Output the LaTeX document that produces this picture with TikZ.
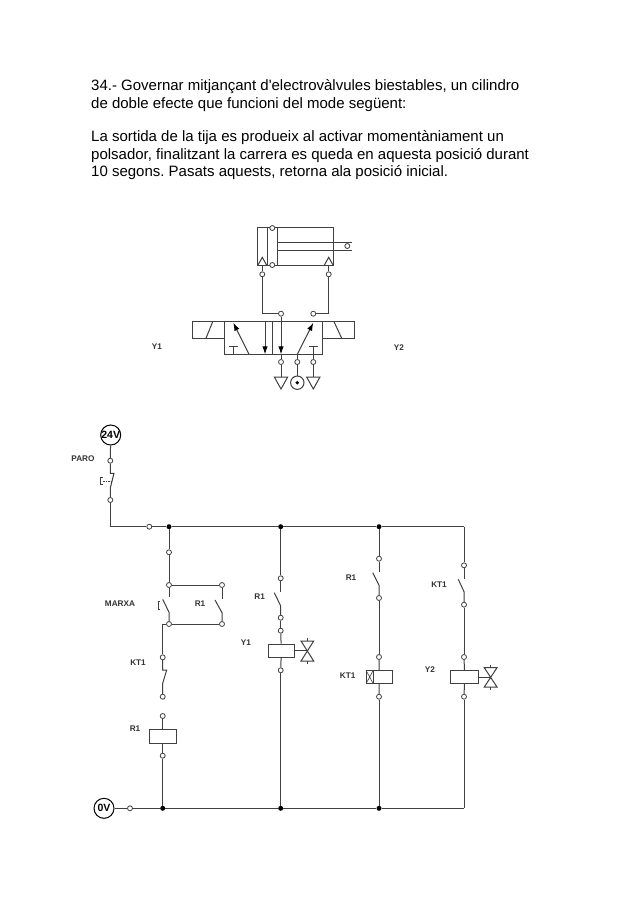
\documentclass[tikz,border=0pt]{standalone}
\usepackage{fontspec}
\setmainfont{Liberation Sans}[Ligatures=TeXOff]
\usetikzlibrary{arrows.meta}
\definecolor{wirecol}{gray}{0.25}
\tikzset{
  wire/.style={draw=wirecol,line width=1pt},
  term/.style={circle,draw=wirecol,fill=white,line width=0.8pt,minimum size=5pt,inner sep=0pt},
  junction/.style={circle,fill=black,minimum size=5pt,inner sep=0pt},
  coil/.style={rectangle,draw=wirecol,line width=1pt,fill=white,minimum width=26.6pt,minimum height=13.4pt,inner sep=0pt},
  rail/.style={circle,draw=black,line width=1pt,fill=white,minimum size=20pt,inner sep=0pt,font=\bfseries\fontsize{10.5}{11}\selectfont},
  tag/.style={text=black!80,inner sep=0pt,font=\bfseries\fontsize{8.2}{9}\selectfont},
  para/.style={anchor=base west,inner sep=0pt,text=black,font=\fontsize{15}{17}\selectfont\frenchspacing},
  tiptop/.style={-{Latex[length=8pt,width=5.5pt,black]}}
}
\begin{document}
\begin{tikzpicture}[x=1pt,y=-1pt]
\fill[white] (0,0) rectangle (638,902);
\useasboundingbox (0,0) rectangle (638,902);
% statement
\node[para] (line1) at (91,90) {34.- Governar mitjançant d'electrovàlvules biestables, un cilindro};
\node[para] (line2) at (91,108) {de doble efecte que funcioni del mode següent:};
\node[para] (line3) at (91,141) {La sortida de la tija es produeix al activar momentàniament un};
\node[para] (line4) at (91,159) {polsador, finalitzant la carrera es queda en aquesta posició durant};
\node[para] (line5) at (91,176) {10 segons. Pasats aquests, retorna ala posició inicial.};

% cylinder
\draw[wire] (257.7,227.7) rectangle (333,265);
\draw[wire] (267.7,227.7) -- (267.7,265);
\draw[wire] (277.7,227.7) -- (277.7,265);
\draw[wire] (277.7,242.3) -- (351.7,242.3);
\draw[wire] (277.7,250) -- (351.7,250);
\draw[wire] (258,265) -- (262.3,257.3) -- (266.6,265);
\draw[wire] (324.4,265) -- (328.7,257.3) -- (333,265);
% valve body
\draw[wire] (224.7,321.7) rectangle (322.7,354.3);
\draw[wire] (272.7,321.7) -- (272.7,354.3);
\draw[wire] (192.3,321.7) rectangle (224.7,338.3);
\draw[wire] (206,338.3) -- (212.7,321.7);
\draw[wire] (322.7,321.7) rectangle (354.3,338.3);
\draw[wire] (334,321.7) -- (341.7,338.3);
\draw[wire,tiptop] (249,354.3) -- (233.3,322.7);
\draw[wire,tiptop] (297.3,354.3) -- (313.3,322.7);
\draw[wire,tiptop] (265,321.7) -- (265,354.3);
\draw[wire] (229.3,346) -- (237.7,346);
\draw[wire] (233.3,346) -- (233.3,354.3);
\draw[wire] (309.3,346) -- (317.7,346);
\draw[wire] (274.3,377) -- (287.7,377) -- (281,389) -- cycle;
\draw[wire] (306.6,377) -- (320,377) -- (313.3,389) -- cycle;
\node[circle,wire,minimum size=13.4pt,inner sep=0pt] (source) at (297.3,382.7) {};
\fill (source) circle (1.9);

% terminals
\foreach \n/\x/\y in {cylA/272.3/228,cylB/272.3/265,rodE/347.3/246,portA/262.3/274.3,portB/328.7/274.3,
  workA/281/313.7,workB/313.3/313.7,exhA/281/362,press/297.3/362,exhB/313.3/362,
  paroA/110.3/460.7,paroB/110.3/500,busT/149.3/526.7,
  marxaT/169/552.3,marxaA/169/585,retA/222/585,marxaB/169/624,retB/222/624,
  kttA/162.7/657.3,kttB/162.7/696.7,rA/162.7/716,rB/162.7/755.7,zeroT/130/808.3,
  yaA/280.7/578.3,yaB/280.7/617.7,yaC/280.7/630.7,yaD/280.7/670.3,
  ktA/379/558.7,ktB/379/598,ktC/379/657,ktD/379/696.7,
  ybA/464/565.3,ybB/464/604.7,ybC/464/657,ybD/464/696.7}
  \node[term] (\n) at (\x,\y) {};

% pneumatic connectors
\draw[wire] (portA) -- (262.3,265);
\draw[wire] (portB) -- (328.7,265);
\draw[wire] (portA) |- (workA);
\draw[wire] (portB) |- (workB);
\draw[wire,tiptop] (workA) -- (281,354.3);
\draw[wire] (281,354.3) -- (exhA);
\draw[wire] (exhA) -- (281,377);
\draw[wire] (297.3,354.3) -- (press);
\draw[wire] (press) -- (source);
\draw[wire] (313.3,346) -- (exhB);
\draw[wire] (exhB) -- (313.3,377);

% supply rails
\node[rail] (plus) at (110.7,435) {24V};
\node[rail] (zero) at (104,808.3) {0V};
\node[junction] (dotA) at (169,526.7) {};
\node[junction] (dotB) at (280.7,526.7) {};
\node[junction] (dotC) at (379,526.7) {};
\node[junction] (dotD) at (162.7,808.3) {};
\node[junction] (dotE) at (280.7,808.3) {};
\node[junction] (dotF) at (379,808.3) {};
\coordinate (topR) at (464,526.7);
\coordinate (botR) at (464,808.3);
\draw[wire] (paroB) |- (busT);
\draw[wire] (busT) -- (dotA) -- (dotB) -- (dotC) -- (topR);
\draw[wire] (zero) -- (zeroT);
\draw[wire] (zeroT) -- (dotD) -- (dotE) -- (dotF) -- (botR);
\draw[wire] (plus) -- (paroA);

% PARO contact
\coordinate (paroC) at (114,473.3);
\coordinate (paroD) at (110.3,488);
\draw[wire] (paroA) -- (110.3,473.3) -- (paroC) -- (paroD) -- (paroB);
\draw[wire,line width=0.6pt,dash pattern=on 1.5pt off 1pt] (103,481) -- (112,481);
\draw[wire,line width=0.6pt] (102.5,477.5) -- (100.7,477.5) -- (100.7,484.3) -- (102.5,484.3);

% first branch
\draw[wire] (dotA) -- (marxaT);
\draw[wire] (marxaT) -- (marxaA);
\draw[wire] (marxaA) -- (retA);
\coordinate (marxaC) at (169,597);
\coordinate (marxaD) at (162.7,599.3);
\coordinate (marxaE) at (169,612.3);
\draw[wire] (marxaA) -- (marxaC);
\draw[wire] (marxaD) -- (marxaE) -- (marxaB);
\draw[wire,line width=0.6pt] (159.5,601.7) -- (158,601.7) -- (158,609) -- (159.5,609);
\coordinate (retC) at (222,599);
\coordinate (retD) at (215,600);
\coordinate (retE) at (222,612.7);
\draw[wire] (retA) -- (retC);
\draw[wire] (retD) -- (retE) -- (retB);
\draw[wire] (marxaB) -- (retB);
\coordinate (feedA) at (162.7,624);
\draw[wire] (marxaB) -- (feedA) -- (kttA);
\coordinate (kttC) at (166.7,670);
\coordinate (kttD) at (162.7,683.3);
\draw[wire] (kttA) -- (162.7,670) -- (kttC) -- (kttD) -- (kttB);
\node[coil] (coilR) at (162.7,736.5) {};
\draw[wire] (rA) -- (coilR);
\draw[wire] (coilR) -- (rB);
\draw[wire] (rB) -- (dotD);

% Y1 branch
\coordinate (yaE) at (280.7,592);
\coordinate (yaF) at (274.3,592.7);
\coordinate (yaG) at (280.7,606);
\draw[wire] (dotB) -- (yaA);
\draw[wire] (yaA) -- (yaE);
\draw[wire] (yaF) -- (yaG) -- (yaB);
\draw[wire] (yaB) -- (yaC);
\node[coil] (coilYa) at (281.3,650.7) {};
\draw[wire] (yaC) -- (coilYa);
\draw[wire] (coilYa) -- (yaD);
\draw[wire] (yaD) -- (dotE);
\draw[wire] (coilYa) -- (307.3,650.7);
\draw[wire] (301,641) -- (313.7,641) -- (301,661) -- (313.7,661) -- cycle;
\draw[wire,line width=0.6pt] (307.3,638.3) -- (307.3,641) (307.3,661) -- (307.3,664);

% KT1 branch
\coordinate (ktE) at (379,572.3);
\coordinate (ktF) at (372.7,572.7);
\coordinate (ktG) at (379,585.3);
\draw[wire] (dotC) -- (ktA);
\draw[wire] (ktA) -- (ktE);
\draw[wire] (ktF) -- (ktG) -- (ktB);
\draw[wire] (ktB) -- (ktC);
\node[coil] (coilKt) at (379.35,677) {};
\draw[wire] (ktC) -- (coilKt);
\draw[wire] (coilKt) -- (ktD);
\draw[wire] (ktD) -- (dotF);
\draw[wire] (373.3,670.3) -- (373.3,683.7);
\draw[wire,line width=0.6pt] (366,670.3) -- (373.3,683.7) (373.3,670.3) -- (366,683.7);

% Y2 branch
\coordinate (ybE) at (464,579);
\coordinate (ybF) at (458.3,579.3);
\coordinate (ybG) at (464,591.7);
\draw[wire] (topR) -- (ybA);
\draw[wire] (ybA) -- (ybE);
\draw[wire] (ybF) -- (ybG) -- (ybB);
\draw[wire] (ybB) -- (ybC);
\node[coil,minimum width=28pt] (coilYb) at (464.7,677) {};
\draw[wire] (ybC) -- (coilYb);
\draw[wire] (coilYb) -- (ybD);
\draw[wire] (ybD) -- (botR);
\draw[wire] (coilYb) -- (490.7,677);
\draw[wire] (484.3,667.7) -- (497,667.7) -- (484.3,687) -- (497,687) -- cycle;
\draw[wire,line width=0.6pt] (490.7,665) -- (490.7,667.7) (490.7,687) -- (490.7,690);

% labels
\node[tag] (tagYa) at (157,347) {Y1};
\node[tag] (tagYb) at (399,347.5) {Y2};
\node[tag] (tagParo) at (83,459) {PARO};
\node[tag] (tagMarxa) at (120,604) {MARXA};
\node[tag] (tagRet) at (200,604) {R1};
\node[tag] (tagKtt) at (138,662.7) {KT1};
\node[tag] (tagR) at (135,729) {R1};
\node[tag] (tagCoilYa) at (246,643) {Y1};
\node[tag] (tagRa) at (259.7,597) {R1};
\node[tag] (tagRb) at (351,577.7) {R1};
\node[tag] (tagKa) at (439,584.3) {KT1};
\node[tag] (tagKb) at (347.7,675.7) {KT1};
\node[tag] (tagCoilYb) at (430,669.3) {Y2};
\end{tikzpicture}
\end{document}
